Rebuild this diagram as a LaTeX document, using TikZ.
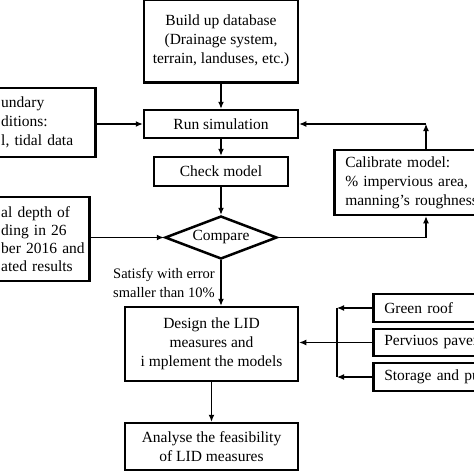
\documentclass[tikz,border=0pt]{standalone}
\usepackage{fontspec}
\setmainfont{Liberation Serif}
\usetikzlibrary{arrows.meta,shapes.geometric}
\begin{document}
\begin{tikzpicture}[x=1pt,y=-1pt,
  flowbox/.style={draw, line width=2.5pt, inner sep=0pt, align=center,
    font=\fontsize{15.5}{19}\selectfont},
  leftbox/.style={draw, line width=2.5pt, inner ysep=0pt, align=left,
    font=\fontsize{15.5}{19}\selectfont},
  arr/.style={line width=1.2pt, -{Latex[length=7pt,width=6pt]}},
  ln/.style={line width=1.2pt}]
\useasboundingbox (0,0) rectangle (474,474);
\clip (0,0) rectangle (474,474);
\fill[white] (0,0) rectangle (474,474);
% main column
\node[flowbox, minimum width=154, minimum height=83] (db) at (221,41)
  {Build up database\\(Drainage system,\\terrain, landuses, etc.)};
\node[flowbox, minimum width=154, minimum height=28] (run) at (221,124) {Run simulation};
\node[flowbox, minimum width=134, minimum height=29] (chk) at (221,171.5) {Check model};
\node[draw, line width=2.5pt, diamond, shape aspect=2.6, inner sep=0pt,
  minimum width=112, minimum height=43,
  font=\fontsize{15.5}{19}\selectfont] (cmp) at (221,237.5) {Compare};
\node[flowbox, minimum width=173, minimum height=74] (des) at (211.5,344)
  {Design the LID\\measures and\\i mplement the models};
\node[flowbox, minimum width=173, minimum height=47] (ana) at (211.5,446.5)
  {Analyse the feasibility\\of LID measures};
% left side
\node[leftbox, inner xsep=4pt, text width=90pt, minimum height=69, anchor=west] (bnd) at (-4,122.5)
  {undary\\ditions:\\l, tidal data};
\node[leftbox, inner xsep=4pt, text width=84pt, minimum height=84, anchor=west,
  font=\fontsize{15.5}{18}\selectfont] (act) at (-4,239)
  {al depth of\\ding in 26\\ber 2016 and\\ated results};
% right side
\node[leftbox, inner xsep=11pt, text width=170pt, minimum height=65, anchor=west] (cal) at (333,182.5)
  {Calibrate model:\\\% impervious area,\\manning’s roughness};
\node[leftbox, inner xsep=11pt, text width=170pt, minimum height=28, anchor=west] (gr) at (372,308) {Green roof};
\node[leftbox, inner xsep=11pt, text width=170pt, minimum height=27, anchor=west] (pv) at (372,342.5) {Perviuos pavem};
\node[leftbox, inner xsep=11pt, text width=170pt, minimum height=28, anchor=west] (st) at (372,377) {Storage and pu};
% satisfy label
\node[anchor=west, align=left, inner sep=0pt, font=\fontsize{14.5}{19}\selectfont] (sat) at (113,282.5)
  {Satisfy with error\\smaller than 10\%};
% helper coordinates
\coordinate (k) at (426,0);
\coordinate (j) at (337,0);
\coordinate (corner) at (run.east -| k);
\coordinate (g1) at (gr.west -| j);
\coordinate (s1) at (st.west -| j);
% connectors
\draw[arr] (db) -- (run);
\draw[arr] (run) -- (chk);
\draw[arr] (chk) -- (cmp);
\draw[arr] (cmp.south) -- (cmp.south |- des.north);
\draw[arr] (des) -- (ana);
\draw[arr] (run.west -| bnd.east) -- (run.west);
\draw[arr] (cmp.west -| act.east) -- (cmp.west);
\draw[arr] (cmp.east) -| (cal.south -| k);
\draw[arr] (cal.north -| k) -- (corner);
\draw[arr] (corner) -- (run.east);
\draw[arr] (gr.west) -- (g1);
\draw[arr] (st.west) -- (s1);
\draw[ln] (g1) -- (s1);
\draw[arr] (pv.west) -- (pv.west -| des.east);
\end{tikzpicture}
\end{document}
